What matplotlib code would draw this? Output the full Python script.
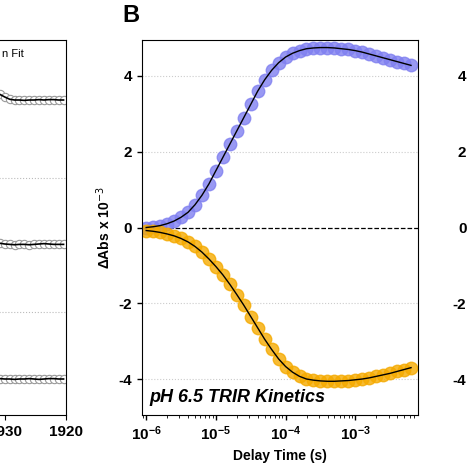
import numpy as np
import matplotlib.pyplot as plt
from matplotlib.ticker import LogLocator, NullFormatter

plt.rcParams['font.family'] = ['Liberation Sans', 'DejaVu Sans']
plt.rcParams['axes.unicode_minus'] = False

# panel B kinetics (log10 delay time, dAbs x 1e-3)
log_t = [-6.0, -5.9, -5.8, -5.7, -5.6, -5.5, -5.4, -5.3, -5.2, -5.1, -5.0, -4.9, -4.8,
         -4.7, -4.6, -4.5, -4.4, -4.3, -4.2, -4.1, -4.0, -3.9, -3.8, -3.7, -3.6, -3.5,
         -3.4, -3.3, -3.2, -3.1, -3.0, -2.9, -2.8, -2.7, -2.6, -2.5, -2.4, -2.3, -2.2]
blue = [0.0, 0.02, 0.05, 0.1, 0.17, 0.27, 0.4, 0.6, 0.85, 1.15, 1.5, 1.85, 2.2,
        2.55, 2.9, 3.25, 3.6, 3.9, 4.15, 4.35, 4.5, 4.6, 4.67, 4.72, 4.74, 4.75,
        4.75, 4.74, 4.72, 4.7, 4.67, 4.63, 4.58, 4.53, 4.48, 4.43, 4.38, 4.33, 4.28]
orange = [-0.08, -0.1, -0.13, -0.17, -0.22, -0.29, -0.38, -0.5, -0.65, -0.83, -1.03, -1.25, -1.5,
          -1.77, -2.05, -2.35, -2.65, -2.95, -3.22, -3.47, -3.67, -3.82, -3.93, -4.0, -4.03, -4.05,
          -4.06, -4.06, -4.05, -4.04, -4.02, -4.0, -3.97, -3.93, -3.89, -3.85, -3.8, -3.75, -3.7]

# partial left panel (wavenumber, offset traces)
wn = [1930.8, 1930.0, 1929.2, 1928.4, 1927.6, 1926.8, 1926.0, 1925.2, 1924.4,
      1923.6, 1922.8, 1922.0, 1921.2, 1920.4]
trace_top = [0.855, 0.848, 0.842, 0.84, 0.84, 0.839, 0.84, 0.84, 0.841, 0.84, 0.841, 0.841, 0.84, 0.84]
trace_mid = [0.458, 0.456, 0.455, 0.454, 0.455, 0.455, 0.454, 0.455, 0.456, 0.457, 0.456, 0.455, 0.455, 0.455]
trace_bot = [0.097, 0.096, 0.096, 0.095, 0.096, 0.096, 0.097, 0.096, 0.095, 0.096, 0.097, 0.097, 0.096, 0.096]

fig = plt.figure(figsize=(4.74, 4.74), dpi=100)

# main panel B
ax = fig.add_axes([142/474, 1-415/474, 276/474, 375/474])
t = 10.0 ** np.array(log_t)
for vals, col in [(blue, '#8080f0'), (orange, '#f5aa00')]:
    ax.plot(t, vals, 'o', ms=9, mfc=col, mec=col, alpha=0.8, zorder=2)
    ax.plot(t, vals, '-', color='black', lw=1.0, zorder=3)
ax.axhline(0, color='black', ls='--', lw=0.9, zorder=1)
for g in [-4, -2, 2, 4]:
    ax.axhline(g, color='#cccccc', ls=':', lw=0.8, zorder=0)
ax.set_xscale('log')
ax.set_xlim(10**-6.06, 10**-2.1)
ax.set_ylim(-4.95, 4.95)
ax.set_yticks([-4, -2, 0, 2, 4])
ax.xaxis.set_major_locator(LogLocator(base=10, numticks=10))
ax.xaxis.set_minor_locator(LogLocator(base=10, subs=np.arange(2, 10), numticks=10))
ax.xaxis.set_minor_formatter(NullFormatter())
ax.tick_params(direction='out', labelsize=11, width=1)
for lab in ax.get_xticklabels() + ax.get_yticklabels():
    lab.set_fontweight('bold')
ax.set_xlabel('Delay Time (s)', fontweight='bold', fontsize=10)
ax.set_ylabel('ΔAbs x 10$^{-3}$', fontweight='bold', fontsize=10)
ax.text(0.025, 0.035, 'pH 6.5 TRIR Kinetics', transform=ax.transAxes,
        fontsize=13, fontweight='bold', fontstyle='italic')
fig.text(122/474, 1-22/474, 'B', fontsize=17, fontweight='bold')

# partial left panel
axl = fig.add_axes([-0.3, 1-415/474, 66/474 + 0.3, 375/474])
for tr in [trace_top, trace_mid, trace_bot]:
    axl.plot(wn, tr, 'o', ms=6, mfc='white', mec='#999999', mew=0.8)
    axl.plot(wn, tr, '-', color='black', lw=1.2)
for g in [0.632, 0.275]:
    axl.axhline(g, color='#bbbbbb', ls=':', lw=0.8)
axl.set_xlim(1954, 1920)
axl.set_ylim(0, 1)
axl.set_xticks([1930, 1920])
axl.set_yticks([])
axl.tick_params(direction='out', labelsize=11)
for lab in axl.get_xticklabels():
    lab.set_fontweight('bold')
fig.text(2/474, 1-57/474, 'n Fit', fontsize=8)

# partial right panel tick labels
axr = fig.add_axes([472/474, 1-415/474, 0.1, 375/474])
axr.set_ylim(-4.95, 4.95)
axr.set_yticks([-4, -2, 0, 2, 4])
axr.set_xticks([])
axr.tick_params(direction='out', labelsize=11, length=0, pad=4)
for lab in axr.get_yticklabels():
    lab.set_fontweight('bold')
for s in axr.spines.values():
    s.set_visible(False)

fig.savefig('out.png', dpi=100)
